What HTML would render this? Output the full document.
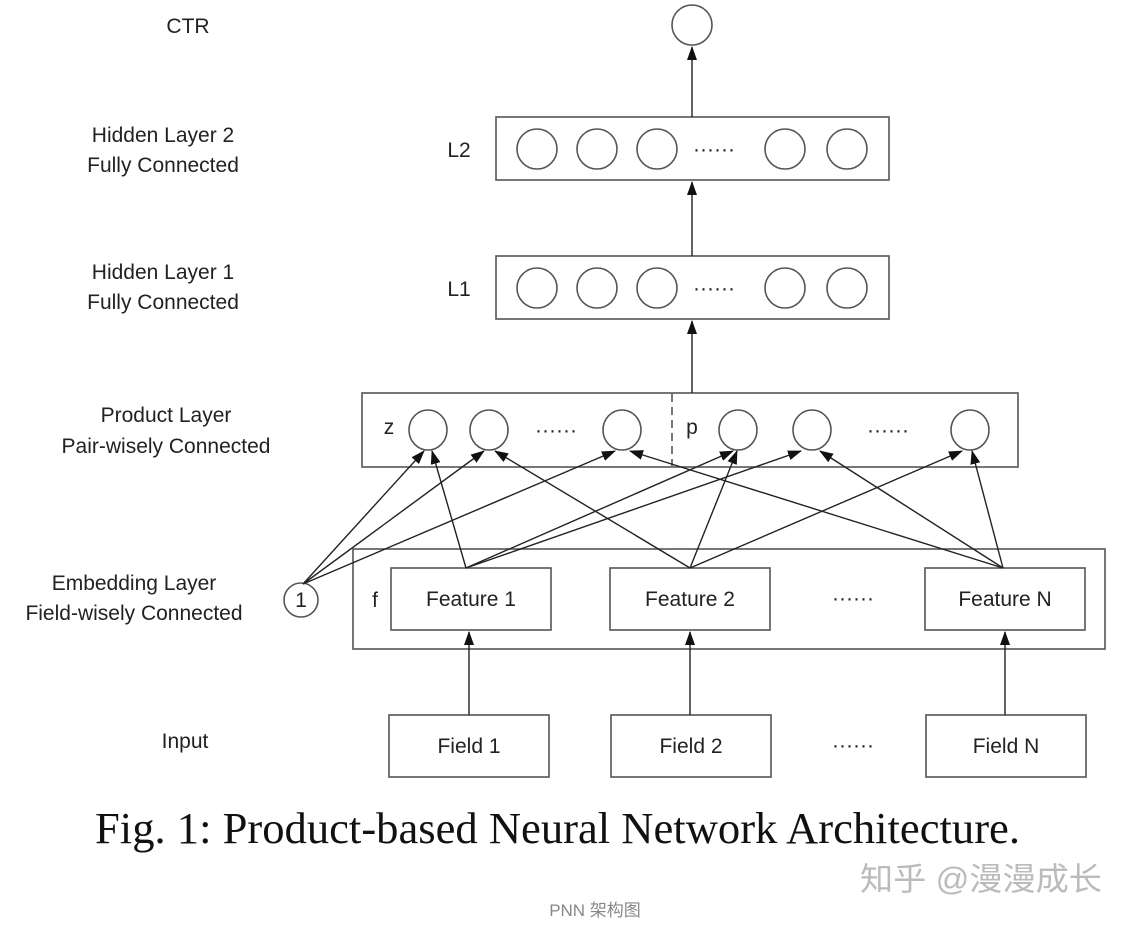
<!DOCTYPE html>
<html><head><meta charset="utf-8"><style>
html,body{margin:0;padding:0;background:#fff;}
svg{display:block}
.s{font-family:"Liberation Sans","DejaVu Sans",sans-serif;font-size:21px;fill:#222}
.cap{font-family:"Liberation Serif",serif;font-size:44px;fill:#111}
</style></head><body>
<svg width="1130" height="926" viewBox="0 0 1130 926" xmlns="http://www.w3.org/2000/svg">
<defs><marker id="a" markerWidth="14" markerHeight="12" refX="13" refY="5" orient="auto" markerUnits="userSpaceOnUse"><path d="M0,0 L14,5 L0,10 z" fill="#111"/></marker></defs>
<g stroke="#555" stroke-width="1.6" fill="none">
<circle cx="692" cy="25" r="20"/>
<rect x="496" y="117" width="393" height="63"/>
<rect x="496" y="256" width="393" height="63"/>
<g>
<circle cx="537" cy="149" r="20"/><circle cx="597" cy="149" r="20"/><circle cx="657" cy="149" r="20"/><circle cx="785" cy="149" r="20"/><circle cx="847" cy="149" r="20"/>
<circle cx="537" cy="288" r="20"/><circle cx="597" cy="288" r="20"/><circle cx="657" cy="288" r="20"/><circle cx="785" cy="288" r="20"/><circle cx="847" cy="288" r="20"/>
</g>
<rect x="362" y="393" width="656" height="74"/>
<line x1="672" y1="394" x2="672" y2="466" stroke-dasharray="8,5"/>
<ellipse cx="428" cy="430" rx="19" ry="20"/><ellipse cx="489" cy="430" rx="19" ry="20"/><ellipse cx="622" cy="430" rx="19" ry="20"/>
<ellipse cx="738" cy="430" rx="19" ry="20"/><ellipse cx="812" cy="430" rx="19" ry="20"/><ellipse cx="970" cy="430" rx="19" ry="20"/>
<rect x="353" y="549" width="752" height="100"/>
<rect x="391" y="568" width="160" height="62"/><rect x="610" y="568" width="160" height="62"/><rect x="925" y="568" width="160" height="62"/>
<rect x="389" y="715" width="160" height="62"/><rect x="611" y="715" width="160" height="62"/><rect x="926" y="715" width="160" height="62"/>
<circle cx="301" cy="600" r="17"/>
</g>
<g stroke="#222" stroke-width="1.4" marker-end="url(#a)">
<line x1="692" y1="117" x2="692" y2="47"/>
<line x1="692" y1="256" x2="692" y2="182"/>
<line x1="692" y1="393" x2="692" y2="321"/>
<line x1="469" y1="715" x2="469" y2="632"/>
<line x1="690" y1="715" x2="690" y2="632"/>
<line x1="1005" y1="715" x2="1005" y2="632"/>
<line x1="303" y1="584" x2="424" y2="451"/>
<line x1="303" y1="584" x2="484" y2="451"/>
<line x1="303" y1="584" x2="615" y2="451"/>
<line x1="466" y1="568" x2="432" y2="451"/>
<line x1="466" y1="568" x2="733" y2="451"/>
<line x1="466" y1="568" x2="801" y2="451"/>
<line x1="690" y1="568" x2="495" y2="451"/>
<line x1="690" y1="568" x2="737" y2="451"/>
<line x1="690" y1="568" x2="962" y2="451"/>
<line x1="1003" y1="568" x2="630" y2="451"/>
<line x1="1003" y1="568" x2="820" y2="451"/>
<line x1="1003" y1="568" x2="972" y2="451"/>
</g>
<g class="s">
<text x="188" y="33" text-anchor="middle">CTR</text>
<text x="163" y="142" text-anchor="middle">Hidden Layer 2</text>
<text x="163" y="172" text-anchor="middle">Fully Connected</text>
<text x="163" y="279" text-anchor="middle">Hidden Layer 1</text>
<text x="163" y="309" text-anchor="middle">Fully Connected</text>
<text x="166" y="422" text-anchor="middle">Product Layer</text>
<text x="166" y="453" text-anchor="middle">Pair-wisely Connected</text>
<text x="134" y="590" text-anchor="middle">Embedding Layer</text>
<text x="134" y="620" text-anchor="middle">Field-wisely Connected</text>
<text x="185" y="748" text-anchor="middle">Input</text>
<text x="459" y="157" text-anchor="middle">L2</text>
<text x="459" y="296" text-anchor="middle">L1</text>
<text x="389" y="434" text-anchor="middle">z</text>
<text x="692" y="434" text-anchor="middle">p</text>
<text x="375" y="607" text-anchor="middle">f</text>
<text x="301" y="607" text-anchor="middle">1</text>
<text x="714" y="156" text-anchor="middle">······</text>
<text x="714" y="295" text-anchor="middle">······</text>
<text x="556" y="437" text-anchor="middle">······</text>
<text x="888" y="437" text-anchor="middle">······</text>
<text x="853" y="605" text-anchor="middle">······</text>
<text x="853" y="752" text-anchor="middle">······</text>
<text x="471" y="606" text-anchor="middle">Feature 1</text>
<text x="690" y="606" text-anchor="middle">Feature 2</text>
<text x="1005" y="606" text-anchor="middle">Feature N</text>
<text x="469" y="753" text-anchor="middle">Field 1</text>
<text x="691" y="753" text-anchor="middle">Field 2</text>
<text x="1006" y="753" text-anchor="middle">Field N</text>
</g>
<text class="cap" x="95" y="843" textLength="925" lengthAdjust="spacingAndGlyphs">Fig. 1: Product-based Neural Network Architecture.</text>
<text x="860" y="890" font-family="Liberation Sans,Noto Sans CJK SC,sans-serif" font-size="32" fill="#bbb" textLength="242" lengthAdjust="spacingAndGlyphs">知乎 @漫漫成长</text>
<text x="595" y="916" text-anchor="middle" font-family="Liberation Sans,Noto Sans CJK SC,sans-serif" font-size="17" fill="#888">PNN 架构图</text>
</svg>
</body></html>
